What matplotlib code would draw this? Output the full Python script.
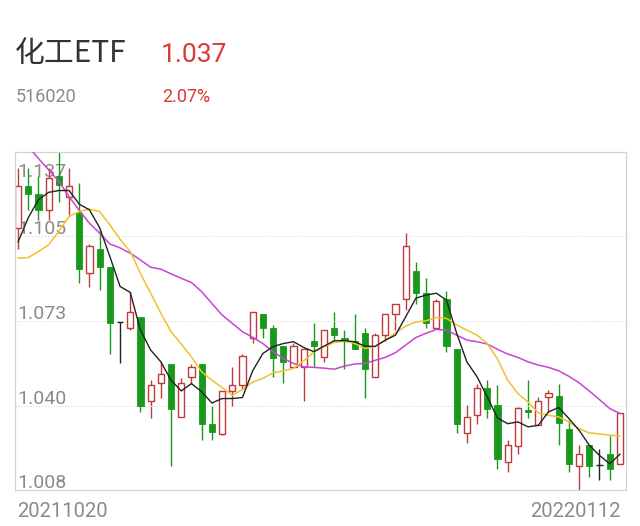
import numpy as np
import matplotlib.pyplot as plt
from matplotlib.transforms import offset_copy

# ===============================
# 化工ETF 516020, 日K 20211020 - 20220112
# ===============================
name = '化工ETF'
code = '516020'
last_price = '1.037'
change_pct = '2.07%'
date_labels = ['20211020', '20220112']
ytick_labels = ['1.008', '1.040', '1.073', '1.105', '1.137']

opens = [1.108, 1.124, 1.121, 1.115, 1.128, 1.120, 1.1137, 1.091, 1.100, 1.093,
         1.0722, 1.0699, 1.0741, 1.042, 1.049, 1.0559, 1.0359, 1.051, 1.0559, 1.0331,
         1.0295, 1.0458, 1.048, 1.0659, 1.075, 1.0699, 1.0629, 1.0548, 1.0548, 1.0648,
         1.0588, 1.0697, 1.0659, 1.0648, 1.068, 1.051, 1.0671, 1.075, 1.0809, 1.0917,
         1.0831, 1.0699, 1.0809, 1.0618, 1.0298, 1.0368, 1.0471, 1.0406, 1.0187, 1.0247,
         1.0387, 1.0327, 1.0435, 1.0438, 1.0314, 1.017, 1.0251, 1.0174, 1.0216, 1.0178]
highs = [1.131, 1.131, 1.128, 1.131, 1.137, 1.131, 1.125, 1.1018, 1.1073, 1.093,
         1.0722, 1.0837, 1.0741, 1.0499, 1.0569, 1.0559, 1.0506, 1.0559, 1.0559, 1.040,
         1.0458, 1.0548, 1.0599, 1.076, 1.075, 1.071, 1.0629, 1.064, 1.0618, 1.0716,
         1.069, 1.0758, 1.069, 1.075, 1.0697, 1.068, 1.075, 1.079, 1.106, 1.0949,
         1.0888, 1.0809, 1.084, 1.0618, 1.0406, 1.0486, 1.0499, 1.048, 1.027, 1.0397,
         1.0499, 1.0435, 1.0461, 1.0486, 1.0346, 1.0251, 1.0251, 1.0238, 1.0285, 1.0372]
lows = [1.100, 1.115, 1.111, 1.111, 1.118, 1.113, 1.087, 1.0854, 1.0843, 1.060,
        1.0563, 1.069, 1.0378, 1.0353, 1.0433, 1.017, 1.0359, 1.0486, 1.027, 1.027,
        1.029, 1.040, 1.0464, 1.0642, 1.0659, 1.051, 1.049, 1.0548, 1.042, 1.0548,
        1.0569, 1.0648, 1.054, 1.0618, 1.0433, 1.051, 1.0648, 1.069, 1.0767, 1.079,
        1.0699, 1.0699, 1.0608, 1.0298, 1.026, 1.0331, 1.0353, 1.0161, 1.0149, 1.0219,
        1.0353, 1.0327, 1.0378, 1.0251, 1.0149, 1.008, 1.013, 1.0117, 1.0117, 1.0178]
closes = [1.124, 1.121, 1.115, 1.127, 1.1245, 1.124, 1.0923, 1.1012, 1.0933, 1.0719,
          1.0722, 1.076, 1.040, 1.048, 1.0521, 1.0391, 1.049, 1.055, 1.0331, 1.0302,
          1.0458, 1.048, 1.059, 1.076, 1.0699, 1.0582, 1.0569, 1.0629, 1.0618, 1.0629,
          1.069, 1.0671, 1.0648, 1.0618, 1.054, 1.0671, 1.075, 1.079, 1.1012, 1.0831,
          1.0719, 1.0803, 1.0629, 1.0331, 1.0359, 1.0471, 1.0391, 1.020, 1.0251, 1.0393,
          1.0378, 1.042, 1.0451, 1.0334, 1.018, 1.0219, 1.017, 1.0174, 1.0161, 1.0372]

# Скользящие средние
ma5 = [1.1027, 1.1119, 1.1188, 1.1216, 1.1223, 1.1223, 1.1171, 1.1149, 1.1081, 1.0971,
       1.0857, 1.0834, 1.069, 1.0614, 1.0569, 1.0499, 1.0458, 1.0486, 1.0455, 1.0412,
       1.0429, 1.0429, 1.0433, 1.0535, 1.0601, 1.0627, 1.0639, 1.0646, 1.0624, 1.0608,
       1.0629, 1.065, 1.065, 1.0646, 1.0629, 1.0628, 1.0652, 1.0671, 1.0741, 1.0812,
       1.0824, 1.0831, 1.0805, 1.0678, 1.0569, 1.0512, 1.0435, 1.0355, 1.0333, 1.034,
       1.0321, 1.0327, 1.0378, 1.0395, 1.0353, 1.0308, 1.0251, 1.0212, 1.018, 1.0216]
ma10 = [1.0965, 1.0967, 1.099, 1.1016, 1.1067, 1.1124, 1.1143, 1.1152, 1.1143, 1.1092,
        1.1037, 1.099, 1.0907, 1.0831, 1.0754, 1.0684, 1.0637, 1.0588, 1.0531, 1.0499,
        1.0471, 1.0442, 1.0463, 1.0492, 1.0506, 1.0527, 1.0535, 1.0544, 1.0573, 1.0606,
        1.0627, 1.0643, 1.0648, 1.0639, 1.062, 1.0628, 1.065, 1.068, 1.0706, 1.0721,
        1.0726, 1.0738, 1.0735, 1.071, 1.069, 1.0671, 1.0639, 1.058, 1.0499, 1.0448,
        1.0416, 1.0374, 1.0365, 1.0359, 1.034, 1.0314, 1.0298, 1.0294, 1.0289, 1.0286]
ma20 = [1.1434, 1.1392, 1.1345, 1.1302, 1.1258, 1.12, 1.1147, 1.1098, 1.106, 1.1019,
        1.1004, 1.0984, 1.0958, 1.093, 1.0923, 1.0905, 1.0888, 1.0872, 1.0837, 1.0792,
        1.0748, 1.0716, 1.0684, 1.0663, 1.0639, 1.0608, 1.0582, 1.0563, 1.055, 1.0548,
        1.0545, 1.0541, 1.0553, 1.0561, 1.0563, 1.0575, 1.0586, 1.0604, 1.0633, 1.0662,
        1.0678, 1.0693, 1.069, 1.0671, 1.0652, 1.0646, 1.0637, 1.0617, 1.0599, 1.0586,
        1.0569, 1.0557, 1.0548, 1.0535, 1.0514, 1.0489, 1.0458, 1.0425, 1.0391, 1.0372]

RED = '#bf3b3b'
GREEN = '#18991c'
TXT_RED = '#d93a33'
GRAY = '#8a8a8a'

o = np.array(opens); h = np.array(highs); l = np.array(lows); c = np.array(closes)
x = np.arange(len(o))
up = c > o
down = c < o
flat = c == o

fig = plt.figure(figsize=(6.4, 5.26), dpi=100)
ax = fig.add_axes([15/640, 36/526, 611/640, 338/526])

# тени
wick_colors = np.where(up, RED, np.where(down, GREEN, '#222222'))
ax.vlines(x, l, h, colors=wick_colors, linewidth=1.0, zorder=1)

# тела свечей
w = 0.6
ax.bar(x[up], (c - o)[up], bottom=o[up], width=w, facecolor='white',
       edgecolor=RED, linewidth=1.0, zorder=2)
ax.bar(x[down], (c - o)[down], bottom=o[down], width=w, color=GREEN,
       edgecolor=GREEN, linewidth=0.6, zorder=2)
ax.hlines(c[flat], x[flat] - w / 2, x[flat] + w / 2, colors='#222222', linewidth=1.0, zorder=2)

# средние
ax.plot(x, ma20, color='#c844d4', linewidth=1.1, zorder=3)
ax.plot(x, ma10, color='#f0c12c', linewidth=1.1, zorder=3)
ax.plot(x, ma5, color='#222222', linewidth=1.0, zorder=4)

ymin, ymax = 1.008, 1.137
ax.set_ylim(ymin, ymax)
ax.set_xlim(-0.3, len(o) - 0.4)
levels = np.linspace(ymin, ymax, len(ytick_labels))
ax.set_yticks(levels[1:-1])
ax.set_xticks([])
ax.tick_params(axis='y', length=0, labelleft=False)
ax.grid(axis='y', linestyle=':', color='#d8d8d8', linewidth=0.8)
for s in ax.spines.values():
    s.set_color('#d3d3d3')
    s.set_linewidth(0.9)

# подписи оси Y внутри графика (под свечами)
for i, (lv, lab) in enumerate(zip(levels, ytick_labels)):
    dy = -25 if i == len(levels) - 1 else 2
    tr = offset_copy(ax.get_yaxis_transform(), fig=fig, x=2, y=dy, units='dots')
    ax.text(0, lv, lab, transform=tr, va='baseline', ha='left', fontsize=14,
            family='Roboto', color=GRAY, zorder=0.5)

# даты
tr_l = offset_copy(ax.transAxes, fig=fig, x=2, y=-27, units='dots')
tr_r = offset_copy(ax.transAxes, fig=fig, x=-5, y=-27, units='dots')
ax.text(0, 0, date_labels[0], transform=tr_l, va='baseline', ha='left',
        fontsize=14.5, family='Roboto', color=GRAY)
ax.text(1, 0, date_labels[1], transform=tr_r, va='baseline', ha='right',
        fontsize=14.5, family='Roboto', color=GRAY)

# заголовок
fig.text(15/640, 1 - 62/526, name, fontsize=21.5, color='#333333',
         family=['Noto Sans CJK SC', 'DejaVu Sans'], va='baseline')
fig.text(161/640, 1 - 62/526, last_price, fontsize=19, color=TXT_RED,
         family='Roboto', va='baseline')
fig.text(16/640, 1 - 102/526, code, fontsize=13, color=GRAY,
         family='Roboto', va='baseline')
fig.text(162/640, 1 - 102/526, change_pct, fontsize=13, color=TXT_RED,
         family='Roboto', va='baseline')

fig.savefig('out.png', dpi=100, facecolor='white')
